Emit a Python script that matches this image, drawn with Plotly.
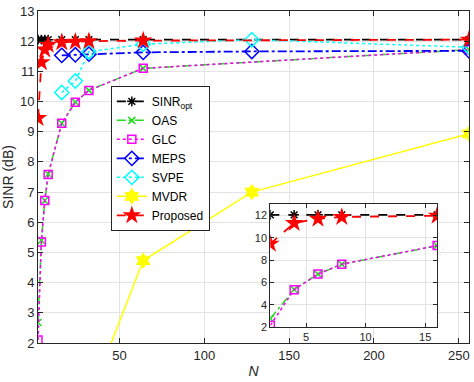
import plotly.graph_objects as go

# ---- data ----
N_all = [2, 4, 6, 8, 16, 24, 32, 64, 256]
sinr_opt = [12.05, 12.05, 12.05, 12.05, 12.05, 12.05, 12.05, 12.05, 12.05]
oas = [2.68, 5.4, 6.72, 7.6, 9.28, 9.98, 10.37, 11.1, 11.72]
glc = [2.1, 5.35, 6.72, 7.58, 9.28, 9.98, 10.37, 11.1, 11.72]
proposed = [9.45, 11.3, 11.72, 11.88, 11.96, 11.98, 12.0, 12.02, 12.05]

N_meps = [16, 24, 32, 64, 128, 256]
meps = [11.53, 11.55, 11.57, 11.63, 11.66, 11.68]
svpe = [10.3, 10.68, 11.65, 11.9, 12.05, 11.8]

N_mvdr = [32, 64, 128, 256]
mvdr = [0.1, 4.73, 7.0, 8.93]

# inset data (N <= 16)
N_in = [2, 4, 6, 8, 16]
sinr_opt_in = [12.05, 12.05, 12.05, 12.05, 12.05]
oas_in = [2.77, 5.38, 6.75, 7.64, 9.28]
glc_in = [2.18, 5.36, 6.75, 7.64, 9.3]
proposed_in = [9.46, 11.32, 11.7, 11.86, 11.97]

x_ticks = [50, 100, 150, 200, 250]
y_ticks = list(range(2, 14))

FONT = "Liberation Sans, Arial, sans-serif"
BLACK = "#000000"
GREEN = "#22dd22"
MAGENTA = "#ff00ff"
BLUE = "#0000ff"
CYAN = "#00ffff"
YELLOW = "#ffff00"
RED = "#ff0000"

fig = go.Figure()

def add(x, y, name, color, dash, symbol, size, lw=1.5, msize_line=1.5, xa="x", ya="y", legend=True):
    fig.add_trace(go.Scatter(
        x=x, y=y, name=name, mode="lines+markers",
        line=dict(color=color, dash=dash, width=lw),
        marker=dict(symbol=symbol, size=size, color=color,
                    line=dict(color=color, width=msize_line)),
        xaxis=xa, yaxis=ya, showlegend=legend,
    ))

# main
add(N_all, sinr_opt, "SINR<sub>opt</sub>", BLACK, "dash", "asterisk-open", 8, lw=1.8)
add(N_all, oas, "OAS", GREEN, "dashdot", "x-thin-open", 7)
add(N_all, glc, "GLC", MAGENTA, "dot", "square-open", 8)
add(N_meps, meps, "MEPS", BLUE, "dashdot", "diamond-open", 11, lw=1.8)
add(N_meps, svpe, "SVPE", CYAN, "dot", "diamond-open", 11)
add(N_mvdr, mvdr, "MVDR", YELLOW, "solid", "hexagram", 11)
add(N_all, proposed, "Proposed", RED, "dash", "star", 14, lw=1.8, msize_line=0)

# inset
add(N_in, sinr_opt_in, "SINR opt (inset)", BLACK, "dash", "asterisk-open", 8, lw=1.8, xa="x2", ya="y2", legend=False)
add(N_in, oas_in, "OAS (inset)", GREEN, "dashdot", "x-thin-open", 7, xa="x2", ya="y2", legend=False)
add(N_in, glc_in, "GLC (inset)", MAGENTA, "dot", "square-open", 8, xa="x2", ya="y2", legend=False)
add(N_in, proposed_in, "Proposed (inset)", RED, "dash", "star", 14, lw=1.8, msize_line=0, xa="x2", ya="y2", legend=False)

axis_common = dict(
    showline=True, linecolor="#262626", linewidth=1, mirror="ticks",
    ticks="inside", ticklen=5, tickcolor="#262626",
    showgrid=True, gridcolor="#e3e3e3", gridwidth=1, zeroline=False,
    tickfont=dict(family=FONT, size=13, color="#262626"),
    ticklabeloverflow="allow",
)
inset_axis = {**axis_common, "tickfont": dict(family=FONT, size=11, color="#262626"), "ticklen": 4}

fig.update_layout(
    width=474, height=382,
    margin=dict(l=38, r=4, t=6, b=39),
    paper_bgcolor="white", plot_bgcolor="white",
    font=dict(family=FONT, color="#262626"),
    xaxis=dict(range=[2, 256], tickvals=x_ticks, domain=[0, 1],
               title=dict(text="<i>N</i>", font=dict(size=14, family=FONT), standoff=4),
               **axis_common),
    yaxis=dict(range=[2, 13], tickvals=y_ticks, domain=[0, 1],
               title=dict(text="SINR (dB)", font=dict(size=14, family=FONT), standoff=6),
               **axis_common),
    xaxis2=dict(range=[2, 16], tickvals=[5, 10, 15], domain=[0.539, 0.926], anchor="y2", **inset_axis),
    yaxis2=dict(range=[2, 13], tickvals=[2, 4, 6, 8, 10, 12], domain=[0.0475, 0.418], anchor="x2", **inset_axis),
    legend=dict(x=0.169, y=0.7745, xanchor="left", yanchor="top",
                bgcolor="white", bordercolor="#262626", borderwidth=1,
                font=dict(family=FONT, size=12, color="#000000"),
                tracegroupgap=0, itemwidth=30),
    showlegend=True,
)

fig.write_html("out.html", config={"displayModeBar": False},
               post_script="document.body.style.margin='0';document.body.style.padding='0';")
